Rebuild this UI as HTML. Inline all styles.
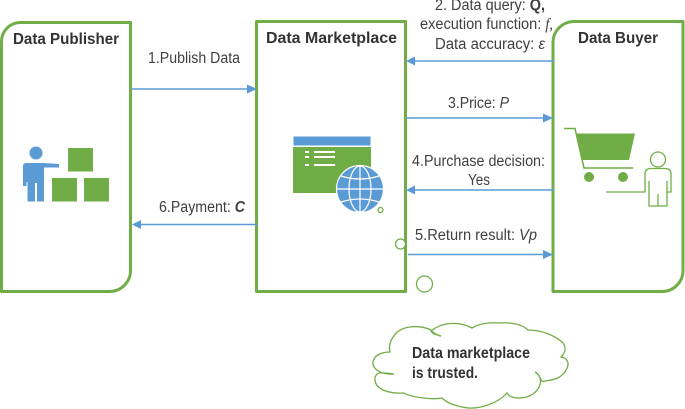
<!DOCTYPE html>
<html>
<head>
<meta charset="utf-8">
<style>
html,body{margin:0;padding:0;background:#fff;width:685px;height:409px;overflow:hidden}
svg{display:block;filter:blur(0.3px)}
text{font-family:"Liberation Sans",sans-serif;font-size:15.500px;fill:#404040}
.b{font-weight:bold;fill:#333}
</style>
</head>
<body>
<svg width="685" height="409" viewBox="0 0 685 409" xmlns="http://www.w3.org/2000/svg">
<g fill="none" stroke="#70ad47" stroke-width="3" stroke-linejoin="round">
<path d="M20 22.500H130.500V270a21 21 0 0 1-21 21.500H1.500V41a19 19 0 0 1 18.500-18.500Z"/>
<rect x="256.500" y="21.500" width="149" height="270"/>
<path d="M574 21.500H683V270a21 21 0 0 1-21 21.500H553V42a21 21 0 0 1 21-20.500Z"/>
</g>

<g stroke="#5b9bd5" stroke-width="1.600" fill="#5b9bd5">
<line x1="131" y1="89" x2="248" y2="89"/><polygon stroke="none" points="247,84.500 257,89 247,93.500"/>
<line x1="141" y1="224.500" x2="258" y2="224.500"/><polygon stroke="none" points="141,220 132,224.500 141,229"/>
<line x1="415" y1="61" x2="554" y2="61"/><polygon stroke="none" points="415,56.500 406,61 415,65.500"/>
<line x1="406" y1="118" x2="544" y2="118"/><polygon stroke="none" points="543,113.500 553,118 543,122.500"/>
<line x1="415" y1="190" x2="554" y2="190"/><polygon stroke="none" points="415,185.500 406,190 415,194.500"/>
<line x1="408" y1="254.500" x2="544" y2="254.500"/><polygon stroke="none" points="543,250 553,254.500 543,259"/>
</g>

<text class="b" x="13" y="44" textLength="106" lengthAdjust="spacingAndGlyphs">Data Publisher</text>
<text class="b" x="266" y="43" textLength="131" lengthAdjust="spacingAndGlyphs">Data Marketplace</text>
<text class="b" x="578" y="43" textLength="80" lengthAdjust="spacingAndGlyphs">Data Buyer</text>

<text x="148" y="63" textLength="92" lengthAdjust="spacingAndGlyphs">1.Publish Data</text>
<text x="159" y="212" textLength="86" lengthAdjust="spacingAndGlyphs">6.Payment: <tspan font-weight="bold" font-style="italic">C</tspan></text>
<text x="435" y="10" textLength="110" lengthAdjust="spacingAndGlyphs">2. Data query: <tspan font-weight="bold">Q,</tspan></text>
<text x="420" y="29" textLength="133" lengthAdjust="spacingAndGlyphs">execution function: <tspan font-style="italic" font-family="Liberation Serif">f,</tspan></text>
<text x="435" y="49" textLength="110" lengthAdjust="spacingAndGlyphs">Data accuracy:  <tspan font-style="italic">ε</tspan></text>
<text x="448" y="108" textLength="61" lengthAdjust="spacingAndGlyphs">3.Price: <tspan font-style="italic">P</tspan></text>
<text x="412" y="166" textLength="133" lengthAdjust="spacingAndGlyphs">4.Purchase decision:</text>
<text x="468" y="185" textLength="22" lengthAdjust="spacingAndGlyphs">Yes</text>
<text x="415" y="240" textLength="122" lengthAdjust="spacingAndGlyphs">5.Return result: <tspan font-style="italic">Vp</tspan></text>

<!-- publisher icon -->
<g fill="#70ad47">
<rect x="68" y="148" width="25" height="23.500"/>
<rect x="52" y="178" width="25" height="23.500"/>
<rect x="84" y="178" width="25" height="23.500"/>
</g>
<g fill="#5b9bd5">
<circle cx="36" cy="153" r="6.500"/>
<path d="M26 163H44L59 164V167.500H44V201.500H37V183H35V201.500H27.500V182H26.500V186H23V166Q23 163 26 163Z"/>
</g>

<!-- marketplace icon -->
<rect x="293" y="136" width="78" height="10" fill="#5b9bd5" stroke="#fff" stroke-width="1"/>
<rect x="293" y="147" width="78" height="46" fill="#70ad47"/>
<g fill="#fff">
<rect x="305" y="151" width="4" height="2"/><rect x="314" y="151" width="21" height="2"/>
<rect x="305" y="156" width="4" height="2"/><rect x="314" y="156" width="21" height="2"/>
<rect x="305" y="164" width="4" height="2"/><rect x="314" y="164" width="21" height="2"/>
</g>
<g>
<circle cx="360" cy="189" r="23.500" fill="#5b9bd5" stroke="#fff" stroke-width="1.200"/>
<g fill="none" stroke="#fff" stroke-width="1.200">
<ellipse cx="360" cy="189" rx="11" ry="23"/>
<line x1="360" y1="166" x2="360" y2="212"/>
<line x1="337" y1="189" x2="383" y2="189"/>
<path d="M341 176Q360 182 379 176"/>
<path d="M341 202Q360 196 379 202"/>
</g>
</g>
<circle cx="380.500" cy="210" r="2.500" fill="#fff" stroke="#70ad47" stroke-width="1.300"/>
<circle cx="400.500" cy="244" r="5" fill="#fff" stroke="#70ad47" stroke-width="1.300"/>
<circle cx="424.500" cy="284" r="8" fill="#fff" stroke="#70ad47" stroke-width="1.300"/>

<!-- buyer icon -->
<path d="M564 128.500H575L584 168H633" fill="none" stroke="#70ad47" stroke-width="1.600"/>
<polygon points="576,133.500 635,133.500 629,160 582,160" fill="#70ad47"/>
<circle cx="589" cy="177" r="5" fill="#70ad47"/>
<circle cx="623" cy="177" r="5" fill="#70ad47"/>
<g fill="none" stroke="#70ad47" stroke-width="1.300">
<circle cx="658" cy="159.500" r="7.500"/>
<path d="M606 192H645V174Q645 168.500 651 168.500H665Q671 168.500 671 174V192H667V181M649 181V206H667V182M658 206V194"/>
</g>

<!-- cloud -->
<path fill="#fff" stroke="#70ad47" stroke-width="1.300" d="M390 352C388 345 392 338 394 336C400 326 418 324 431 330C434 334 440 336 441 336C436 334 433 335 431 331C442 322 458 321 472 328C478 324 490 322 497 323C512 322 522 324 528 330C542 330 556 336 563 343C566 347 566 352 561 357C568 358 570 364 566 370C562 378 554 380 545 381C540 384 541 374 535 372C544 378 541 388 533 394C524 400 510 399 507 393C498 403 478 411 462 407C452 405 446 402 442 398C432 400 410 397 404 393C388 394 374 389 375 378C376 372 380 372 394 374C380 375 372 368 373 362C374 355 382 352 390 352Z"/>
<text class="b" x="412" y="358" textLength="118" lengthAdjust="spacingAndGlyphs">Data marketplace</text>
<text class="b" x="412" y="378" textLength="66" lengthAdjust="spacingAndGlyphs">is trusted.</text>
</svg>
</body>
</html>
